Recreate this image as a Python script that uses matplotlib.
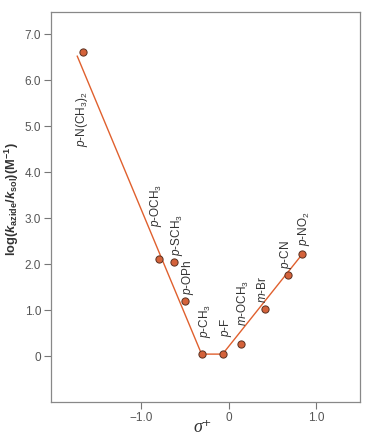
import matplotlib
matplotlib.use("Agg")
import matplotlib.pyplot as plt

plt.rcParams.update({
    "font.family": ["Liberation Sans", "DejaVu Sans"],
    "mathtext.fontset": "custom",
    "mathtext.rm": "Liberation Sans",
    "mathtext.it": "Liberation Sans:italic",
    "mathtext.bf": "Liberation Sans:bold",
    "mathtext.bfit": "Liberation Sans:italic:bold",
})

# substituents: sigma+ and log(k_azide/k_sol)
names = [r"$\mathit{p}$-N(CH$_3$)$_2$", r"$\mathit{p}$-OCH$_3$", r"$\mathit{p}$-SCH$_3$",
         r"$\mathit{p}$-OPh", r"$\mathit{p}$-CH$_3$", r"$\mathit{p}$-F",
         r"$\mathit{m}$-OCH$_3$", r"$\mathit{m}$-Br", r"$\mathit{p}$-CN", r"$\mathit{p}$-NO$_2$"]
sigma = [-1.66, -0.80, -0.62, -0.50, -0.31, -0.07, 0.14, 0.41, 0.68, 0.84]
logk = [6.61, 2.12, 2.04, 1.20, 0.05, 0.05, 0.28, 1.02, 1.77, 2.22]

# label centres
lab_x = [-1.68, -0.83, -0.59, -0.46, -0.27, -0.035, 0.165, 0.39, 0.66, 0.86]
lab_y = [5.14, 3.29, 2.64, 1.71, 0.77, 0.64, 1.16, 1.46, 2.22, 2.77]

# fitted line vertices
fit_x = [-1.73, -0.31, -0.07, 0.84]
fit_y = [6.52, 0.05, 0.05, 2.22]

yticks = [0, 1, 2, 3, 4, 5, 6, 7]
ytick_labels = ["0", "1.0", "2.0", "3.0", "4.0", "5.0", "6.0", "7.0"]
xticks = [-1, 0, 1]
xtick_labels = ["\u22121.0", "0", "1.0"]

fig = plt.figure(figsize=(3.68, 4.38), dpi=100, facecolor="white")
ax = fig.add_axes([0.1386, 0.0822, 0.8397, 0.8904])

ax.plot(fit_x, fit_y, color="#e0602e", lw=1.0, zorder=2)
ax.plot(sigma, logk, ls="none", marker="o", ms=5.2, mfc="#d4623a", mec="#5a3020",
        mew=0.7, zorder=3)

for name, x, y in zip(names, lab_x, lab_y):
    ax.text(x, y, name, rotation=90, ha="center", va="center", fontsize=8.5,
            color="#333333")

ax.set_xlim(-2.03, 1.5)
ax.set_ylim(-0.99, 7.48)
ax.set_xticks(xticks)
ax.set_xticklabels(xtick_labels)
ax.set_yticks(yticks)
ax.set_yticklabels(ytick_labels)
ax.tick_params(direction="out", length=5, width=0.8, color="#777777",
               labelcolor="#555555", labelsize=8.5, pad=2)

for sp in ax.spines.values():
    sp.set_color("#888888")
    sp.set_linewidth(0.9)

ax.set_xlabel("\u03c3\u207a", family=["Liberation Serif", "DejaVu Serif"],
              style="italic", fontsize=13, color="#333333", va="center")
ax.xaxis.set_label_coords(0.49, -0.065)
ax.set_ylabel(r"$\mathbf{log(}\mathbfit{k}_{\mathbf{azide}}\mathbf{/}\mathbfit{k}_{\mathbf{sol}}\mathbf{)(M^{-1})}$",
              fontsize=9.3, color="#333333", va="center")
ax.yaxis.set_label_coords(-0.125, 0.52)

fig.savefig("out.png", dpi=100, facecolor="white")
